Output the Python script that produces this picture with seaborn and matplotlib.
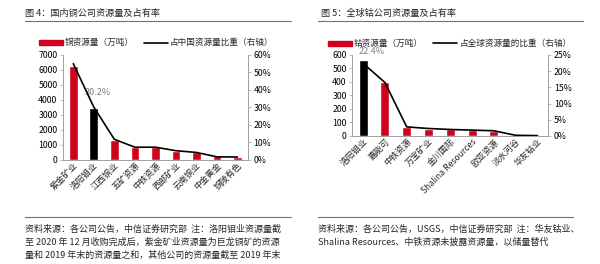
import numpy as np
import seaborn as sns
import matplotlib
matplotlib.use("Agg")
import matplotlib.pyplot as plt
from matplotlib.patches import Patch
from matplotlib.lines import Line2D

# --- data ---
cu_companies = ["紫金矿业", "洛阳钼业", "江西铜业", "五矿资源", "中铁资源",
                "西部矿业", "云南铜业", "中金黄金", "铜陵有色"]
cu_reserve = [6250, 3450, 1320, 850, 850, 600, 500, 250, 220]
cu_share = [55.0, 30.2, 11.8, 7.3, 7.3, 5.3, 4.3, 1.8, 1.7]

co_companies = ["洛阳钼业", "嘉能可", "中铁资源", "万宝矿业", "金川国际",
                "Shalina Resources", "欧亚资源", "淡水河谷", "华友钴业"]
co_reserve = [560, 400, 70, 55, 48, 42, 38, 4, 3]
co_share = [22.4, 16.5, 2.8, 2.3, 2.0, 1.8, 1.6, 0.2, 0.1]

RED = "#D0021B"
GREY = "#808080"

sns.set_theme(style="white")
plt.rcParams["font.family"] = ["Noto Sans CJK SC", "DejaVu Sans"]

fig = plt.figure(figsize=(6, 2.64), dpi=100)
fig.patch.set_facecolor("white")


def draw_panel(rect, cats, vals, share, hl, ymax, ystep, rmax, rstep,
               bar_label, line_label, annot, annot_xy, leg_x):
    ax = fig.add_axes(rect)
    n = len(cats)
    colors = ["black" if i == hl else RED for i in range(n)]
    sns.barplot(x=cats, y=vals, hue=cats, palette=colors, legend=False,
                width=0.42, ax=ax, saturation=1)
    ax.set_xlim(-0.5, n - 0.5)
    ax.set_ylim(0, ymax)
    ax.set_yticks(np.arange(0, ymax + 1, ystep))
    ax2 = ax.twinx()
    sns.lineplot(x=np.arange(n), y=share, color="black", lw=1.2, ax=ax2)
    ax2.set_ylim(0, rmax)
    ax2.set_yticks(np.arange(0, rmax + 0.1, rstep))
    ax2.set_yticklabels([f"{int(v)}%" for v in np.arange(0, rmax + 0.1, rstep)])
    for a in (ax, ax2):
        a.spines["top"].set_visible(False)
        for s in ("left", "right", "bottom"):
            a.spines[s].set_color("#A0A0A0")
            a.spines[s].set_linewidth(0.6)
        a.tick_params(axis="y", labelsize=6.3, length=2, width=0.5,
                      colors="#A0A0A0", labelcolor="black", pad=2)
        a.set_xlabel("")
        a.set_ylabel("")
    ax.tick_params(axis="x", labelsize=6.2, length=0, pad=1)
    ax.set_xticks(range(n))
    ax.set_xticklabels(cats, rotation=45, ha="right", rotation_mode="anchor")
    ax.text(annot_xy[0], annot_xy[1], annot, transform=ax.transData,
            fontsize=6.5, color=GREY, ha="center")
    handles = [Patch(color=RED, label=bar_label),
               Line2D([0], [0], color="black", lw=1.2, label=line_label)]
    ax.legend(handles=handles, loc="lower left", bbox_to_anchor=(leg_x, 1.04),
              ncol=2, frameon=False, fontsize=6.2, handlelength=2.8,
              handleheight=0.5, columnspacing=1.2, handletextpad=0.2,
              borderaxespad=0)
    return ax


draw_panel([0.105, 0.394, 0.308, 0.398], cu_companies, cu_reserve, cu_share,
           1, 7000, 1000, 60, 10, "铜资源量（万吨）", "占中国资源量比重（右轴）",
           "30.2%", (1.2, 4300), -0.15)
draw_panel([0.587, 0.485, 0.327, 0.307], co_companies, co_reserve, co_share,
           0, 600, 100, 25, 5, "钴资源量（万吨）", "占全球资源量的比重（右轴）",
           "22.4%", (0.4, 605), -0.14)

# titles and separators
fig.text(0.042, 0.95, "图 4：国内铜公司资源量及占有率", fontsize=6.6, va="center")
fig.text(0.535, 0.95, "图 5：全球钴公司资源量及占有率", fontsize=6.6, va="center")
for x0, x1, x2 in ((0.042, 0.485, 0.485), (0.53, 0.972, 0.955)):
    fig.add_artist(Line2D([x0, x1], [0.922, 0.922], color="#C0504D", lw=0.8))
    fig.add_artist(Line2D([x0, x2], [0.178, 0.178], color="#C0504D", lw=0.8))

# footnotes
fig.text(0.042, 0.148, "资料来源：各公司公告，中信证券研究部  注：洛阳钼业资源量截\n"
         "至 2020 年 12 月收购完成后，紫金矿业资源量为巨龙铜矿的资源\n"
         "量和 2019 年末的资源量之和，其他公司的资源量截至 2019 年末",
         fontsize=6.5, va="top", linespacing=1.5)
fig.text(0.53, 0.148, "资料来源：各公司公告，USGS，中信证券研究部  注：华友钴业、\n"
         "Shalina Resources、中铁资源未披露资源量，以储量替代",
         fontsize=6.5, va="top", linespacing=1.5)

fig.savefig("out.png", dpi=100, facecolor="white")
